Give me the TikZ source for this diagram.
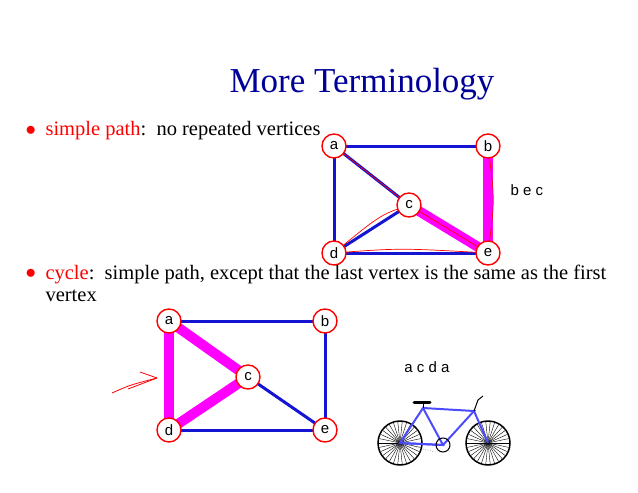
\documentclass[tikz,border=0pt]{standalone}
\usepackage{fontspec}
\setmainfont{Liberation Serif}
\newfontfamily\sans{Liberation Sans}
\definecolor{pinkm}{RGB}{255,0,255}
\definecolor{blueb}{RGB}{20,20,210}
\begin{document}
\begin{tikzpicture}[x=1pt,y=-1pt,
 vtx/.style={circle,draw=red,line width=1.4pt,minimum size=24pt,inner sep=0pt,font=\sans\fontsize{15}{15}\selectfont,fill=white},
 bl/.style={draw=blueb,line width=3pt},
 pk/.style={draw=pinkm,line width=10pt},
 rd/.style={draw=red,line width=0.7pt},
 lbl/.style={font=\sans\fontsize{15}{15}\selectfont}]
\useasboundingbox (0,0) rectangle (638,493);
\node[font=\fontsize{35}{35}\selectfont,text={rgb,255:red,0;green,0;blue,153}] (title) at (362,84) {More Terminology};
\node[anchor=west,font=\fontsize{20.5}{20.5}\selectfont,red] (b1) at (22,131) {$\bullet$};
\node[anchor=west,font=\fontsize{20.5}{20.5}\selectfont] (t1) at (42,131) {\textcolor{red}{simple path}:\ \ no repeated vertices};
\node[anchor=west,font=\fontsize{20.5}{20.5}\selectfont,red] (b2) at (22,274) {$\bullet$};
\node[anchor=west,font=\fontsize{20.5}{20.5}\selectfont] (t2) at (42,274) {\textcolor{red}{cycle}:\ \ simple path, except that the last vertex is the same as the first};
\node[anchor=west,font=\fontsize{20.5}{20.5}\selectfont] (t3) at (42,296) {vertex};
% top graph
\coordinate (A) at (334,146); \coordinate (B) at (488,146); \coordinate (C) at (409,205);
\coordinate (D) at (334,253); \coordinate (E) at (488,253);
\draw[pk] (C) -- (E); \draw[pk] (B) -- (E);
\draw[bl] (A) -- (B); \draw[bl] (A) -- (D); \draw[bl] (A) -- (C); \draw[bl] (C) -- (D); \draw[bl] (D) -- (E);
\draw[rd] (A) -- (C); \draw[rd] (C) .. controls (380,215) .. (D);
\draw[rd] (D) .. controls (400,248) .. (E); \draw[rd] (C) -- (E);
\draw[rd] (B) .. controls (495,200) .. (E);
\node[vtx] (a) at (A) {a}; \node[vtx] (b) at (B) {b}; \node[vtx] (c) at (C) {c};
\node[vtx] (d) at (D) {d}; \node[vtx] (e) at (E) {e};
\node[lbl] (bec) at (527,190) {b e c};
% bottom graph
\coordinate (A2) at (169,321); \coordinate (B2) at (325,321); \coordinate (C2) at (248,377);
\coordinate (D2) at (169,430); \coordinate (E2) at (325,430);
\draw[bl] (A2) -- (B2); \draw[bl] (B2) -- (E2); \draw[bl] (D2) -- (E2); \draw[bl] (C2) -- (E2);
\draw[pk] (A2) -- (D2); \draw[pk] (A2) -- (C2); \draw[pk] (C2) -- (D2);
\node[vtx] (a2) at (A2) {a}; \node[vtx] (b2) at (B2) {b}; \node[vtx] (c2) at (C2) {c};
\node[vtx] (d2) at (D2) {d}; \node[vtx] (e2) at (E2) {e};
\node[lbl] (acda) at (427,367) {a c d a};
% hand-drawn arrow
\coordinate (r0) at (112,393); \coordinate (r1) at (157,378);
\draw[red,line width=0.8pt] (r0) .. controls (130,385) .. (r1);
\draw[red,line width=0.8pt] (r1) -- (140,372); \draw[red,line width=0.8pt] (r1) -- (128,389);
% bicycle
\coordinate (w1) at (400,443); \coordinate (w2) at (488,443);
\foreach \w in {w1,w2}{
 \draw[black,line width=1.5pt] (\w) circle (22);
 \foreach \k in {0,12,...,348} \draw[black,line width=0.4pt] (\w) -- ++(\k:21);
}
\coordinate (bb) at (443,445); \coordinate (st) at (423,408); \coordinate (hd) at (474,411);
\draw[blue!70,line width=2pt] (w1) -- (st) -- (bb) -- cycle;
\draw[blue!70,line width=2pt] (st) -- (hd) -- (bb);
\draw[blue!70,line width=2pt] (hd) -- (w2);
\draw[blue!70,line width=2pt] (w1) -- (bb);
\draw[black,line width=3pt,line cap=round] (414,402) -- (430,402);
\draw[black,line width=1pt] (423,402) -- (st);
\draw[black,line width=1pt] (hd) -- (478,400) -- (483,396);
\draw[black,line width=1pt] (bb) circle (7);
\draw[black,dotted] (w1) -- (435,452) -- (443,452);
\end{tikzpicture}
\end{document}
